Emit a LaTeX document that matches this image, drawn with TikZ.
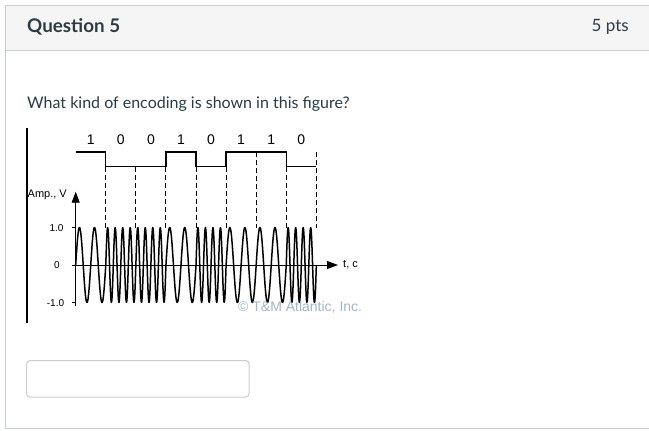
\documentclass[tikz,border=0pt]{standalone}
\usepackage{fontspec}
\setmainfont{Lato}
\newfontfamily\arialfont{Liberation Sans}
\usetikzlibrary{arrows.meta, positioning}
\definecolor{canvastext}{HTML}{2D3B45}
\definecolor{headbg}{HTML}{F5F5F5}
\definecolor{rulegray}{HTML}{C7CDD1}
\definecolor{markblue}{HTML}{A3B5C9}

\begin{document}
\begin{tikzpicture}[x=1pt, y=-1pt,
    frame/.style={draw=rulegray, line width=1pt},
    wave/.style={line width=1.5pt, line join=round},
    signal/.style={line width=1.3pt},
    bitlabel/.style={font=\arialfont\fontsize{14}{14}\selectfont, inner sep=0pt},
    ticklabel/.style={font=\arialfont\fontsize{10}{10}\selectfont, inner sep=0pt},
    axis/.style={line width=0.9pt, -{Triangle[length=11pt, width=8pt]}}]
  \useasboundingbox (0,0) rectangle (649,431);
  \fill[white] (0,0) rectangle (649,431);

  % card and header
  \fill[headbg] (5.3,5.3) rectangle (660,50);
  \draw[frame] (660,5.3) -- (5.3,5.3) -- (5.3,428.3) -- (660,428.3);
  \draw[frame] (5.3,50) -- (660,50);
  \node[anchor=west, text=canvastext, font=\bfseries\fontsize{18.8}{18.8}\selectfont, inner sep=0pt] (title) at (27,27) {Question 5};
  \node[anchor=east, text=canvastext, font=\fontsize{17}{17}\selectfont, inner sep=0pt] (pts) at (629,27) {5 pts};
  \node[anchor=west, text=canvastext, font=\fontsize{16}{16}\selectfont, inner sep=0pt] (ask) at (27,104) {What kind of encoding is shown in this figure?};

  % figure
  \draw[line width=2pt] (26.7,128) -- (26.7,323);

  \def\xo{75.7}
  \def\bw{30.08}
  % data bits
  \foreach \b [count=\i from 0] in {1,0,0,1,0,1,1,0} {
    \node[bitlabel] (bit\i) at ({\xo+(\i+0.5)*\bw},140) {\b};
  }
  \draw[signal] (\xo,152) -- ++(\bw,0) -- ++(0,14.7) -- ++(2*\bw,0) -- ++(0,-14.7)
    -- ++(\bw,0) -- ++(0,14.7) -- ++(\bw,0) -- ++(0,-14.7) -- ++(2*\bw,0)
    -- ++(0,14.7) -- ++(\bw,0);
  \foreach \i/\ys in {1/166.7,2/166.7,3/166.7,4/166.7,5/166.7,6/152,7/166.7,8/152} {
    \draw[line width=0.9pt, dash pattern=on 5pt off 3pt] ({\xo+\i*\bw},\ys) -- ({\xo+\i*\bw},227.7);
  }

  % axes
  \draw[axis] (\xo,306) -- (\xo,191.7) coordinate (ytop);
  \draw[axis] (71.7,265) -- (338,265) coordinate (tend);
  \foreach \yy in {227.7,302.7}
    \draw[line width=0.9pt] (71.7,\yy) -- (\xo,\yy);
  \node[ticklabel, anchor=west, font=\arialfont\fontsize{11}{11}\selectfont] (amp) at (27.5,195) {Amp., V};
  \node[ticklabel] (one) at (56.5,227.7) {1.0};
  \node[ticklabel] (zero) at (57,265) {0};
  \node[ticklabel] (mone) at (55.5,302.7) {-1.0};
  \node[ticklabel, anchor=west, font=\arialfont\fontsize{11}{11}\selectfont] (tc) at (343,265) {t, c};

  % modulated carrier
  \foreach \b [count=\i from 0] in {1,0,0,1,0,1,1,0} {
    \pgfmathsetmacro{\cyc}{ifthenelse(\b==1,2,4)}
    \draw[wave] plot[domain=0:1, samples=90, smooth, variable=\t]
      ({\xo+(\i+\t)*\bw},{265-37.5*sin(360*\cyc*\t)});
  }

  \node[anchor=west, text=markblue, font=\arialfont\fontsize{14}{14}\selectfont, inner sep=0pt] (mark) at (238,307.5) {© T\&M Atlantic, Inc.};

  % answer box
  \draw[draw=rulegray, line width=1pt, rounded corners=3pt] (26.7,360.7) rectangle (249,397);
\end{tikzpicture}
\end{document}
